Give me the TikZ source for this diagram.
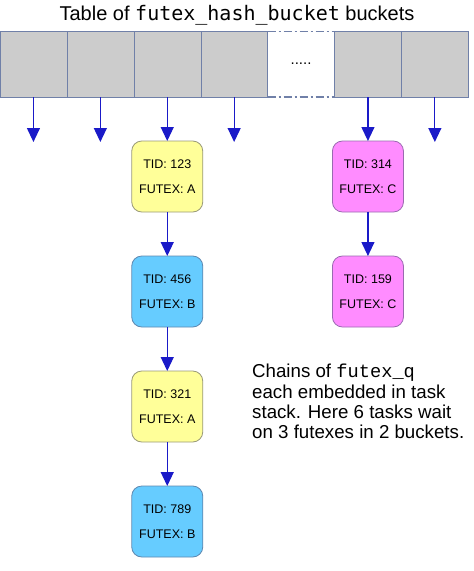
\documentclass[tikz,border=0pt]{standalone}
\usepackage{fontspec}
\setmainfont{Liberation Sans}
\setmonofont{Liberation Mono}
\newfontfamily\titlemono{DejaVu Sans Mono}
\usetikzlibrary{arrows.meta,positioning}
\definecolor{cellgrey}{HTML}{CCCCCC}
\definecolor{celledge}{HTML}{7080A8}
\definecolor{arrblue}{HTML}{1A1AC8}
\definecolor{yellowfill}{HTML}{FFFF99}
\definecolor{yellowedge}{HTML}{9A9A78}
\definecolor{bluefill}{HTML}{66CCFF}
\definecolor{blueedge}{HTML}{5E88B0}
\definecolor{pinkfill}{HTML}{FF8CFF}
\definecolor{pinkedge}{HTML}{9A6AB0}
\tikzset{
	bucketcell/.style={rectangle, draw=celledge, fill=cellgrey, minimum width=66.9pt,
		minimum height=66pt, inner sep=0pt, outer sep=0pt},
	gapcell/.style={rectangle, fill=white, minimum width=66.9pt, minimum height=66pt,
		inner sep=0pt, outer sep=0pt, font=\fontsize{15}{18}\selectfont},
	gapedge/.style={draw=celledge, line width=1.2pt, dash pattern=on 8pt off 3pt on 2pt off 3pt},
	taskbox/.style={rectangle, rounded corners=10pt, minimum width=71pt, minimum height=71pt,
		align=center, font=\fontsize{12.5}{25}\selectfont, inner sep=0pt, outer sep=0pt, thick},
	yellowtask/.style={taskbox, draw=yellowedge, fill=yellowfill},
	bluetask/.style={taskbox, draw=blueedge, fill=bluefill},
	pinktask/.style={taskbox, draw=pinkedge, fill=pinkfill},
	chainarr/.style={-{Triangle[width=13pt,length=14pt]}, draw=arrblue, fill=arrblue, line width=1.2pt}
}
\begin{document}
\begin{tikzpicture}[x=1pt, y=-1pt, node distance=44pt]
	\useasboundingbox (0,0) rectangle (474,571);
	\node[font=\fontsize{20}{24}\selectfont] (title) at (237,15) {Table of {\titlemono futex\_hash\_bucket} buckets};
	% bucket table
	\node[bucketcell, anchor=north west] (b1) at (0,31) {};
	\node[bucketcell, right=0pt of b1] (b2) {};
	\node[bucketcell, right=0pt of b2] (b3) {};
	\node[bucketcell, right=0pt of b3] (b4) {};
	\node[gapcell, right=0pt of b4] (b5) {.....};
	\node[bucketcell, right=0pt of b5] (b6) {};
	\node[bucketcell, right=0pt of b6] (b7) {};
	\draw[gapedge] ([yshift=-0.4pt]b5.north west) -- ([yshift=-0.4pt]b5.north east);
	\draw[gapedge] (b5.south west) -- (b5.south east);
	% empty buckets
	\coordinate[below=45pt of b1.south] (e1);
	\coordinate[below=45pt of b2.south] (e2);
	\coordinate[below=45pt of b4.south] (e4);
	\coordinate[below=45pt of b7.south] (e7);
	% futex_q chains
	\node[yellowtask, below=of b3] (t123) {TID: 123\\FUTEX: A};
	\node[bluetask, below=of t123] (t456) {TID: 456\\FUTEX: B};
	\node[yellowtask, below=of t456] (t321) {TID: 321\\FUTEX: A};
	\node[bluetask, below=of t321] (t789) {TID: 789\\FUTEX: B};
	\node[pinktask, below=of b6] (t314) {TID: 314\\FUTEX: C};
	\node[pinktask, below=of t314] (t159) {TID: 159\\FUTEX: C};
	\node[anchor=north west, align=left, inner sep=0pt, font=\fontsize{18.7}{20.3}\selectfont] (note) at (252,364)
		{Chains of \texttt{futex\_q}\\each embedded in task\\stack. Here 6 tasks wait\\on 3 futexes in 2 buckets.};
	\draw[chainarr] (b1.south) -- (e1);
	\draw[chainarr] (b2.south) -- (e2);
	\draw[chainarr] (b4.south) -- (e4);
	\draw[chainarr] (b7.south) -- (e7);
	\draw[chainarr] (b3) -- (t123);
	\draw[chainarr] (t123) -- (t456);
	\draw[chainarr] (t456) -- (t321);
	\draw[chainarr] (t321) -- (t789);
	\draw[chainarr] (b6) -- (t314);
	\draw[chainarr] (t314) -- (t159);
\end{tikzpicture}
\end{document}
